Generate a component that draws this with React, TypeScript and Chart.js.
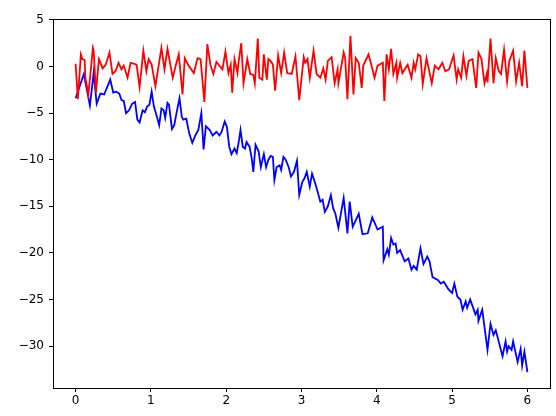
import { useEffect, useRef } from 'react';
import { Chart, registerables } from 'chart.js';

Chart.register(...registerables);

// red series
const redX = [
  0.0, 0.03, 0.07, 0.09, 0.12, 0.13, 0.17, 0.23, 0.24, 0.27,
  0.31, 0.36, 0.4, 0.45, 0.49, 0.53, 0.57, 0.61, 0.64, 0.69,
  0.73, 0.77, 0.81, 0.85, 0.9, 0.94, 0.97, 1.01, 1.06, 1.14,
  1.18, 1.22, 1.29, 1.33, 1.37, 1.42, 1.45, 1.5, 1.57, 1.62,
  1.66, 1.71, 1.75, 1.79, 1.83, 1.87, 1.92, 1.95, 1.99, 2.03,
  2.06, 2.08, 2.11, 2.15, 2.16, 2.2, 2.23, 2.28, 2.32, 2.36,
  2.38, 2.42, 2.44, 2.48, 2.5, 2.54, 2.56, 2.59, 2.62, 2.65,
  2.69, 2.73, 2.77, 2.81, 2.87, 2.92, 2.97, 3.03, 3.05, 3.08,
  3.11, 3.16, 3.2, 3.25, 3.29, 3.32, 3.35, 3.4, 3.44, 3.48,
  3.49, 3.56, 3.58, 3.61, 3.65, 3.69, 3.72, 3.76, 3.8, 3.82,
  3.89, 3.92, 3.97, 4.01, 4.08, 4.1, 4.13, 4.16, 4.19, 4.22,
  4.26, 4.27, 4.31, 4.34, 4.41, 4.46, 4.49, 4.51, 4.55, 4.58,
  4.61, 4.66, 4.73, 4.77, 4.82, 4.87, 4.91, 4.96, 5.02, 5.06,
  5.08, 5.12, 5.15, 5.19, 5.22, 5.27, 5.32, 5.35, 5.39, 5.43,
  5.46, 5.47, 5.51, 5.55, 5.58, 5.62, 5.65, 5.69, 5.73, 5.76,
  5.81, 5.85, 5.89, 5.93, 5.96, 6.0,
];
const redY = [
  0.3, -3.5, 1.3, 0.8, 0.7, -1.2, -3.0, 2.0, 1.7, -2.8,
  0.8, -0.2, 0.2, 1.5, -0.8, -0.5, 0.4, -0.3, 0.1, -1.2,
  0.4, 0.3, 0.2, -2.2, 1.7, -0.5, 0.8, 0.2, -2.1, 2.0,
  -0.3, 1.9, -1.2, 0.1, 1.3, -3.0, 0.9, 0.1, -0.7, 0.9,
  0.8, -3.8, 2.4, 0.2, -0.8, 0.5, 0.0, -0.3, 1.6, -0.7,
  0.2, -2.8, 0.8, -0.7, 0.2, 2.5, -1.8, 0.8, -0.8, -0.9,
  -1.8, 3.0, -1.2, -1.4, 1.3, -1.4, 0.8, 0.6, 0.2, -2.6,
  1.2, -0.7, 1.5, -0.7, -0.8, 1.1, -3.6, 1.0, 0.4, 0.8,
  -1.2, 1.7, -0.8, -1.2, -0.2, -1.4, 0.6, 1.0, -1.8, -0.3,
  -1.8, 1.5, 0.9, -3.5, 3.3, -3.0, 0.9, 0.4, -2.3, 0.1,
  1.3, 0.4, -1.2, 0.1, 0.4, -3.7, 1.3, -0.3, 1.9, -0.8,
  0.4, -1.2, 0.4, -0.7, 0.2, -1.2, 0.4, -0.3, 1.3, 1.1,
  -1.9, 0.9, -1.8, 0.1, -0.3, 0.4, -0.5, -0.3, 1.2, -1.4,
  -0.3, -1.2, 1.1, -1.0, 0.6, 0.8, -2.3, 1.5, 0.8, -1.8,
  -0.8, -1.7, 3.0, -1.8, 0.9, -0.5, -0.8, 1.8, -1.6, 0.6,
  1.7, -1.6, 0.4, -2.1, 1.7, -2.3,
];

// blue series
const blueX = [
  0.0, 0.11, 0.19, 0.24, 0.28, 0.33, 0.38, 0.46, 0.5, 0.54,
  0.58, 0.61, 0.64, 0.67, 0.71, 0.75, 0.79, 0.82, 0.85, 0.89,
  0.92, 0.95, 0.98, 1.01, 1.04, 1.08, 1.11, 1.14, 1.17, 1.19,
  1.22, 1.24, 1.28, 1.31, 1.34, 1.38, 1.41, 1.43, 1.47, 1.51,
  1.55, 1.59, 1.63, 1.67, 1.7, 1.73, 1.78, 1.82, 1.87, 1.91,
  1.94, 1.98, 2.01, 2.04, 2.07, 2.11, 2.14, 2.17, 2.19, 2.22,
  2.25, 2.27, 2.31, 2.34, 2.36, 2.39, 2.43, 2.46, 2.5, 2.53,
  2.56, 2.59, 2.62, 2.64, 2.67, 2.71, 2.73, 2.76, 2.79, 2.83,
  2.86, 2.9, 2.94, 2.97, 3.01, 3.04, 3.07, 3.11, 3.14, 3.17,
  3.22, 3.25, 3.28, 3.31, 3.35, 3.39, 3.42, 3.45, 3.49, 3.56,
  3.61, 3.64, 3.68, 3.76, 3.81, 3.88, 3.94, 4.01, 4.08, 4.09,
  4.14, 4.16, 4.19, 4.22, 4.25, 4.27, 4.31, 4.37, 4.42, 4.46,
  4.49, 4.53, 4.58, 4.62, 4.67, 4.7, 4.74, 4.81, 4.85, 4.89,
  4.95, 5.0, 5.03, 5.07, 5.11, 5.14, 5.18, 5.2, 5.24, 5.31,
  5.34, 5.35, 5.4, 5.47, 5.51, 5.55, 5.58, 5.67, 5.71, 5.73,
  5.75, 5.79, 5.81, 5.87, 5.91, 5.93, 5.96, 6.0,
];
const blueY = [
  -3.4, -0.8, -4.2, -0.7, -4.0, -2.9, -3.0, -1.4, -2.8, -2.7,
  -2.9, -3.6, -3.7, -5.0, -4.7, -4.0, -3.8, -5.7, -6.0, -4.7,
  -4.9, -4.3, -4.1, -2.7, -4.3, -5.4, -6.3, -4.5, -4.7, -5.5,
  -3.9, -4.1, -6.7, -6.3, -5.0, -3.4, -5.4, -5.7, -5.6, -7.2,
  -8.2, -7.4, -6.8, -5.0, -8.9, -6.4, -6.8, -7.4, -7.0, -7.4,
  -7.0, -5.9, -6.5, -8.6, -9.4, -8.8, -9.3, -7.9, -6.8, -8.6,
  -8.8, -8.1, -8.6, -9.9, -11.3, -8.4, -9.1, -10.8, -9.4, -10.8,
  -10.0, -9.6, -9.7, -12.2, -10.8, -10.6, -11.1, -9.7, -10.0, -10.8,
  -11.8, -11.3, -10.1, -13.8, -12.4, -12.0, -11.3, -12.9, -11.5, -12.2,
  -13.6, -14.5, -14.3, -15.6, -15.0, -13.8, -15.2, -15.8, -17.3, -14.1,
  -17.9, -14.5, -17.2, -15.8, -18.0, -17.9, -16.2, -17.5, -17.2, -20.8,
  -19.6, -20.2, -18.4, -19.1, -19.0, -20.0, -19.7, -20.9, -20.6, -21.8,
  -21.4, -21.8, -19.5, -21.2, -20.4, -20.9, -22.6, -22.9, -23.3, -23.1,
  -23.9, -24.3, -23.3, -24.7, -25.0, -26.1, -25.2, -25.9, -25.0, -26.6,
  -26.1, -27.3, -26.1, -30.4, -27.6, -28.8, -28.3, -31.1, -29.5, -30.6,
  -30.0, -30.4, -29.5, -31.7, -30.3, -32.1, -30.6, -32.8,
];

const xTicks = [0, 1, 2, 3, 4, 5, 6];
const yTicks = [-30, -25, -20, -15, -10, -5, 0, 5];

const toPoints = (xs: number[], ys: number[]) => xs.map((x, i) => ({ x, y: ys[i] }));
const fmt = (v: number) => String(v).replace('-', '\u2212');

const frame = {
  id: 'frame',
  afterDraw(chart: Chart) {
    const { ctx, chartArea } = chart;
    ctx.save();
    ctx.strokeStyle = '#000';
    ctx.lineWidth = 1;
    ctx.strokeRect(
      Math.round(chartArea.left) + 0.5,
      Math.round(chartArea.top) + 0.5,
      Math.round(chartArea.right - chartArea.left),
      Math.round(chartArea.bottom - chartArea.top)
    );
    ctx.restore();
  },
};

const App = () => {
  const chartRef = useRef<HTMLCanvasElement | null>(null);

  useEffect(() => {
    document.body.style.margin = '0';
    if (!chartRef.current) return;
    const ctx = chartRef.current.getContext('2d');
    if (!ctx) return;

    const font = { family: 'DejaVu Sans', size: 12 };

    const chart = new Chart(ctx, {
      type: 'line',
      data: {
        datasets: [
          {
            data: toPoints(redX, redY),
            borderColor: '#ff0000',
            borderWidth: 1.8,
            pointRadius: 0,
            tension: 0,
          },
          {
            data: toPoints(blueX, blueY),
            borderColor: '#0000ff',
            borderWidth: 1.8,
            pointRadius: 0,
            tension: 0,
          },
        ],
      },
      options: {
        animation: false,
        responsive: false,
        layout: { padding: { top: 19, right: 6, left: 0, bottom: 0 } },
        plugins: { legend: { display: false }, tooltip: { enabled: false } },
        scales: {
          x: {
            type: 'linear',
            min: -0.3,
            max: 6.3,
            afterBuildTicks: (axis: any) => {
              axis.ticks = xTicks.map((value) => ({ value }));
            },
            afterFit: (axis: any) => {
              axis.height = 28;
            },
            grid: { drawOnChartArea: false, tickLength: 4, color: '#000', tickColor: '#000' },
            border: { display: true, color: '#000' },
            ticks: { color: '#000', font, padding: 2, maxRotation: 0, callback: (v: any) => fmt(v) },
          },
          y: {
            type: 'linear',
            min: -34.5,
            max: 5.1,
            afterBuildTicks: (axis: any) => {
              axis.ticks = yTicks.map((value) => ({ value }));
            },
            afterFit: (axis: any) => {
              axis.width = 53;
            },
            grid: { drawOnChartArea: false, tickLength: 4, color: '#000', tickColor: '#000' },
            border: { display: true, color: '#000' },
            ticks: { color: '#000', font, padding: 5, callback: (v: any) => fmt(v) },
          },
        },
      },
      plugins: [frame],
    });

    return () => chart.destroy();
  }, []);

  return <canvas ref={chartRef} width={556} height={416} style={{ display: 'block' }} />;
};

export default App;
